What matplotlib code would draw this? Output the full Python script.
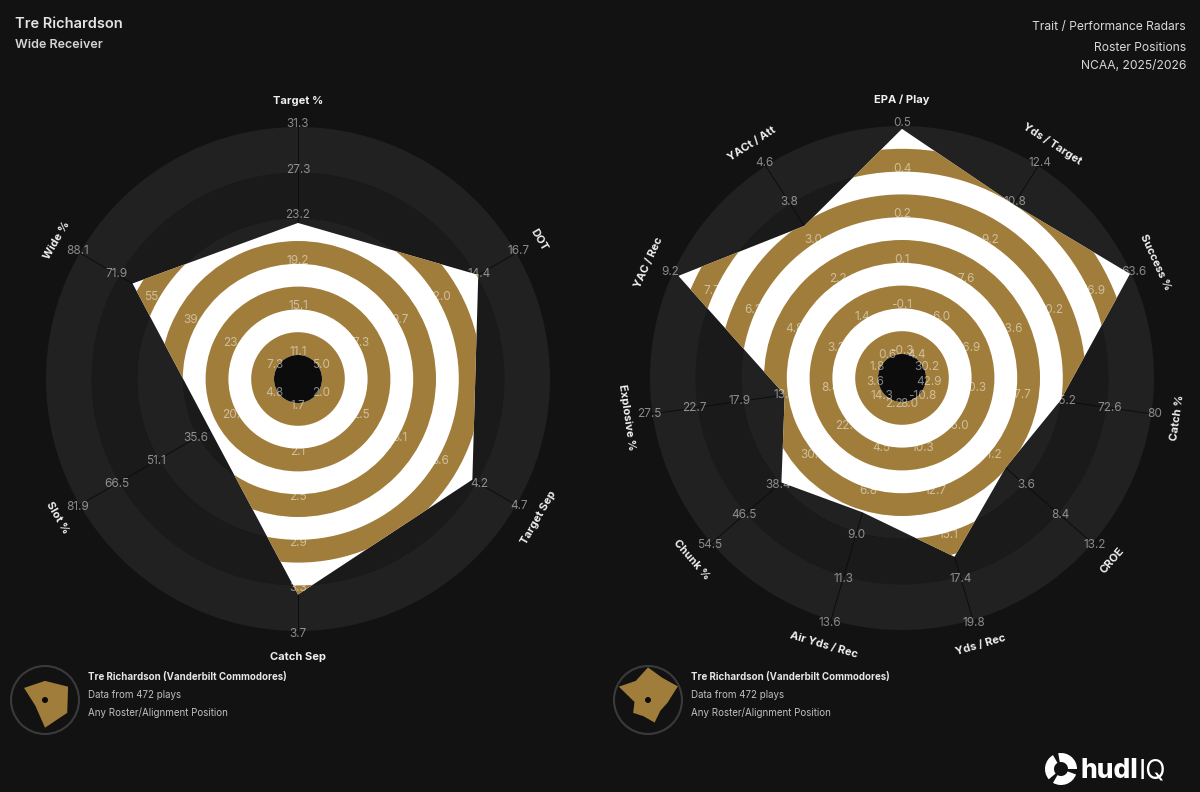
import numpy as np
import matplotlib
matplotlib.use("Agg")
import matplotlib.pyplot as plt
from matplotlib.patches import Circle, Wedge, Polygon

# ---------------- data ----------------
player_name = "Tre Richardson"
position = "Wide Receiver"
team = "Vanderbilt Commodores"
plays = 472

trait_params = ["Target %", "DOT", "Target Sep", "Catch Sep", "Slot %", "Wide %"]
trait_ticks = [
    ["11.1", "15.1", "19.2", "23.2", "27.3", "31.3"],
    ["5.0", "7.3", "9.7", "12.0", "14.4", "16.7"],
    ["2.0", "2.5", "3.1", "3.6", "4.2", "4.7"],
    ["1.7", "2.1", "2.5", "2.9", "3.3", "3.7"],
    ["4.8", "20.2", "35.6", "51.1", "66.5", "81.9"],
    ["7.3", "23.5", "39.6", "55.8", "71.9", "88.1"],
]
trait_values = [22.8, 14.45, 4.1, 3.38, 31.0, 66.5]

perf_params = ["EPA / Play", "Yds / Target", "Success %", "Catch %", "CROE",
               "Yds / Rec", "Air Yds / Rec", "Chunk %", "Explosive %",
               "YAC / Rec", "YACt / Att"]
perf_ticks = [
    ["-0.3", "-0.1", "0.1", "0.2", "0.4", "0.5"],
    ["4.4", "6.0", "7.6", "9.2", "10.8", "12.4"],
    ["30.2", "36.9", "43.6", "50.2", "56.9", "63.6"],
    ["42.9", "50.3", "57.7", "65.2", "72.6", "80"],
    ["-10.8", "-6.0", "-1.2", "3.6", "8.4", "13.2"],
    ["8.0", "10.3", "12.7", "15.1", "17.4", "19.8"],
    ["2.2", "4.5", "6.8", "9.0", "11.3", "13.6"],
    ["14.3", "22.3", "30.4", "38.4", "46.5", "54.5"],
    ["3.6", "8.4", "13.2", "17.9", "22.7", "27.5"],
    ["1.8", "3.3", "4.8", "6.2", "7.7", "9.2"],
    ["0.6", "1.4", "2.2", "3.0", "3.8", "4.6"],
]
perf_values = [0.49, 10.8, 63.4, 65.0, 1.1, 16.4, 8.0, 38.2, 13.5, 9.0, 3.35]

# ---------------- style ----------------
BG = "#121212"
GOLD = "#a07d3a"
RING_LIGHT = "#212121"
RING_DARK = "#1a1a1a"
HOLE = "#0c0c0c"
FONT = ["Inter", "DejaVu Sans"]
plt.rcParams["font.family"] = FONT

fig = plt.figure(figsize=(12, 7.92), dpi=100, facecolor=BG)
ax = fig.add_axes([0, 0, 1, 1])
ax.set_xlim(0, 1200)
ax.set_ylim(792, 0)
ax.set_aspect("equal")
ax.axis("off")
ax.set_facecolor(BG)

HOLE_R = 24
OUTER_R = 252
NRING = 5


def fracs(ticks, values):
    lo = np.array([float(t[0]) for t in ticks])
    hi = np.array([float(t[-1]) for t in ticks])
    return np.clip((np.array(values) - lo) / (hi - lo), 0, 1)


def draw_radar(cx, cy, params, ticks, values):
    n = len(params)
    ang = np.arange(n) * 2 * np.pi / n
    w = (OUTER_R - HOLE_R) / NRING
    # background rings
    for k in range(NRING):
        ro = HOLE_R + (k + 1) * w
        col = RING_LIGHT if (NRING - 1 - k) % 2 == 0 else RING_DARK
        ax.add_patch(Wedge((cx, cy), ro, 0, 360, width=w, facecolor=col,
                           edgecolor="none", zorder=1))
    # spokes
    for a in ang:
        ax.plot([cx, cx + OUTER_R * np.sin(a)], [cy, cy - OUTER_R * np.cos(a)],
                color="#0d0d0d", lw=0.7, zorder=2)
    # polygon
    f = fracs(ticks, values)
    r = HOLE_R + f * (OUTER_R - HOLE_R)
    pts = np.column_stack([cx + r * np.sin(ang), cy - r * np.cos(ang)])
    poly = Polygon(pts, closed=True, facecolor="white", edgecolor="none", zorder=3)
    ax.add_patch(poly)
    for k in range(NRING):
        ri = HOLE_R + k * w
        ring = Wedge((cx, cy), ri + w / 2, 0, 360, width=w / 2,
                     facecolor=GOLD, edgecolor="none", zorder=4)
        ax.add_patch(ring)
        ring.set_clip_path(poly)
    ax.add_patch(Circle((cx, cy), HOLE_R, facecolor=HOLE, edgecolor="none", zorder=5))
    # tick labels
    for i, a in enumerate(ang):
        for k in range(NRING + 1):
            rr = HOLE_R + k * w + 3
            ax.text(cx + rr * np.sin(a), cy - rr * np.cos(a), ticks[i][k],
                    ha="center", va="center", fontsize=8.5,
                    color=(1, 1, 1, 0.5), zorder=6)
    # parameter names
    for i, a in enumerate(ang):
        rr = OUTER_R + 26
        rot = -np.degrees(a)
        rot = (rot + 180) % 360 - 180
        if abs(rot) > 90:
            rot = rot + 180 if rot < 0 else rot - 180
        ax.text(cx + rr * np.sin(a), cy - rr * np.cos(a), params[i],
                ha="center", va="center", rotation=rot, rotation_mode="anchor",
                fontsize=8, fontweight="bold", color="#f0f0f0", zorder=6)


def draw_mini(cx, cy, ticks, values, rad=34):
    n = len(ticks)
    ang = np.arange(n) * 2 * np.pi / n
    f = fracs(ticks, values)
    r = f * (rad - 1)
    pts = np.column_stack([cx + r * np.sin(ang), cy - r * np.cos(ang)])
    ax.add_patch(Polygon(pts, closed=True, facecolor=GOLD, edgecolor="none", zorder=3))
    ax.add_patch(Circle((cx, cy), rad, facecolor="none", edgecolor="#3a3a3a",
                        lw=1.5, zorder=4))
    ax.add_patch(Circle((cx, cy), 3, facecolor=HOLE, edgecolor="none", zorder=5))


def legend(x, y):
    ax.text(x, y, f"{player_name} ({team})", fontsize=7, fontweight="bold",
            color="#e6e6e6", va="center", ha="left")
    ax.text(x, y + 18, f"Data from {plays} plays", fontsize=7,
            color="#c0c0c0", va="center", ha="left")
    ax.text(x, y + 36, "Any Roster/Alignment Position", fontsize=7,
            color="#c0c0c0", va="center", ha="left")


draw_radar(298, 379, trait_params, trait_ticks, trait_values)
draw_radar(902, 378, perf_params, perf_ticks, perf_values)

draw_mini(45, 700, trait_ticks, trait_values)
draw_mini(648, 700, perf_ticks, perf_values)
legend(88, 677)
legend(691, 677)

# titles
ax.text(15, 24, player_name, fontsize=10.5, fontweight="semibold",
        color="#e4e4e4", va="center", ha="left")
ax.text(15, 45, position, fontsize=9, fontweight="semibold",
        color="#d4d4d4", va="center", ha="left")
ax.text(1186, 27, "Trait / Performance Radars", fontsize=8.7, color="#d8d8d8",
        va="center", ha="right")
ax.text(1186, 48, "Roster Positions", fontsize=8.7, color="#d8d8d8",
        va="center", ha="right")
ax.text(1186, 66, "NCAA, 2025/2026", fontsize=8.7, color="#d8d8d8",
        va="center", ha="right")

# logo
lx, ly = 1061, 769
for a0 in (20, 140, 260):
    ax.add_patch(Wedge((lx, ly), 16, a0, a0 + 100, width=9, facecolor="white",
                       edgecolor="none", zorder=6))
t1 = ax.text(1081, 771, "hudl", fontsize=19, fontweight="heavy", color="white",
             va="center", ha="left")
ax.annotate("IQ", xy=(1.0, 0.0), xycoords=t1, va="bottom", ha="left",
            fontsize=19, fontweight="normal", color="white")

fig.savefig("out.png", dpi=100, facecolor=BG)
